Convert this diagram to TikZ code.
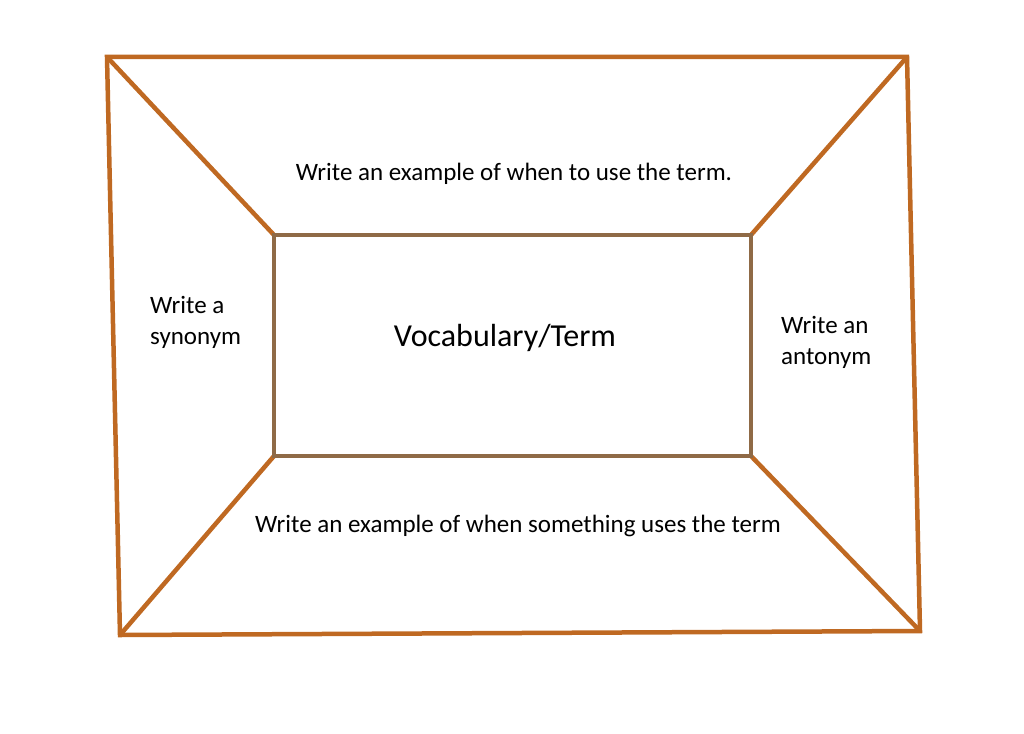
\documentclass[tikz,border=0pt]{standalone}
\usepackage{fontspec}
\setmainfont{Carlito}
\definecolor{outerc}{RGB}{191,105,34}
\definecolor{innerc}{RGB}{143,106,70}
\tikzset{
  outerline/.style={draw=outerc, line width=4.5pt, line join=miter},
  innerline/.style={draw=innerc, line width=4.5pt},
  lbl/.style={font=\fontsize{25}{31}\selectfont, inner sep=0pt, text=black},
  sidelbl/.style={lbl, align=left},
  termlbl/.style={font=\fontsize{32}{38}\selectfont, inner sep=0pt, text=black}
}
\begin{document}
\begin{tikzpicture}[x=1pt,y=-1pt]
\useasboundingbox (0,0) rectangle (1024,733);
\coordinate (OTL) at (107,57);
\coordinate (OTR) at (907,57);
\coordinate (OBR) at (920,631);
\coordinate (OBL) at (120,635);
\coordinate (ITL) at (274,235);
\coordinate (ITR) at (751,235);
\coordinate (IBR) at (751,456);
\coordinate (IBL) at (274,456);
\draw[outerline] (OTL) -- (OTR) -- (OBR) -- (OBL) -- cycle;
\draw[outerline] (OTL) -- (ITL);
\draw[outerline] (OTR) -- (ITR);
\draw[outerline] (OBR) -- (IBR);
\draw[outerline] (OBL) -- (IBL);
\draw[innerline] (ITL) rectangle (IBR);
\node[lbl] (top) at (514,174) {Write an example of when to use the term.};
\node[lbl] (bottom) at (518,526) {Write an example of when something uses the term};
\node[sidelbl, anchor=west] (left) at (150,322) {Write a\\synonym};
\node[sidelbl, anchor=west] (right) at (781,342) {Write an\\antonym};
\node[termlbl] (term) at (505,338) {Vocabulary/Term};
\end{tikzpicture}
\end{document}
